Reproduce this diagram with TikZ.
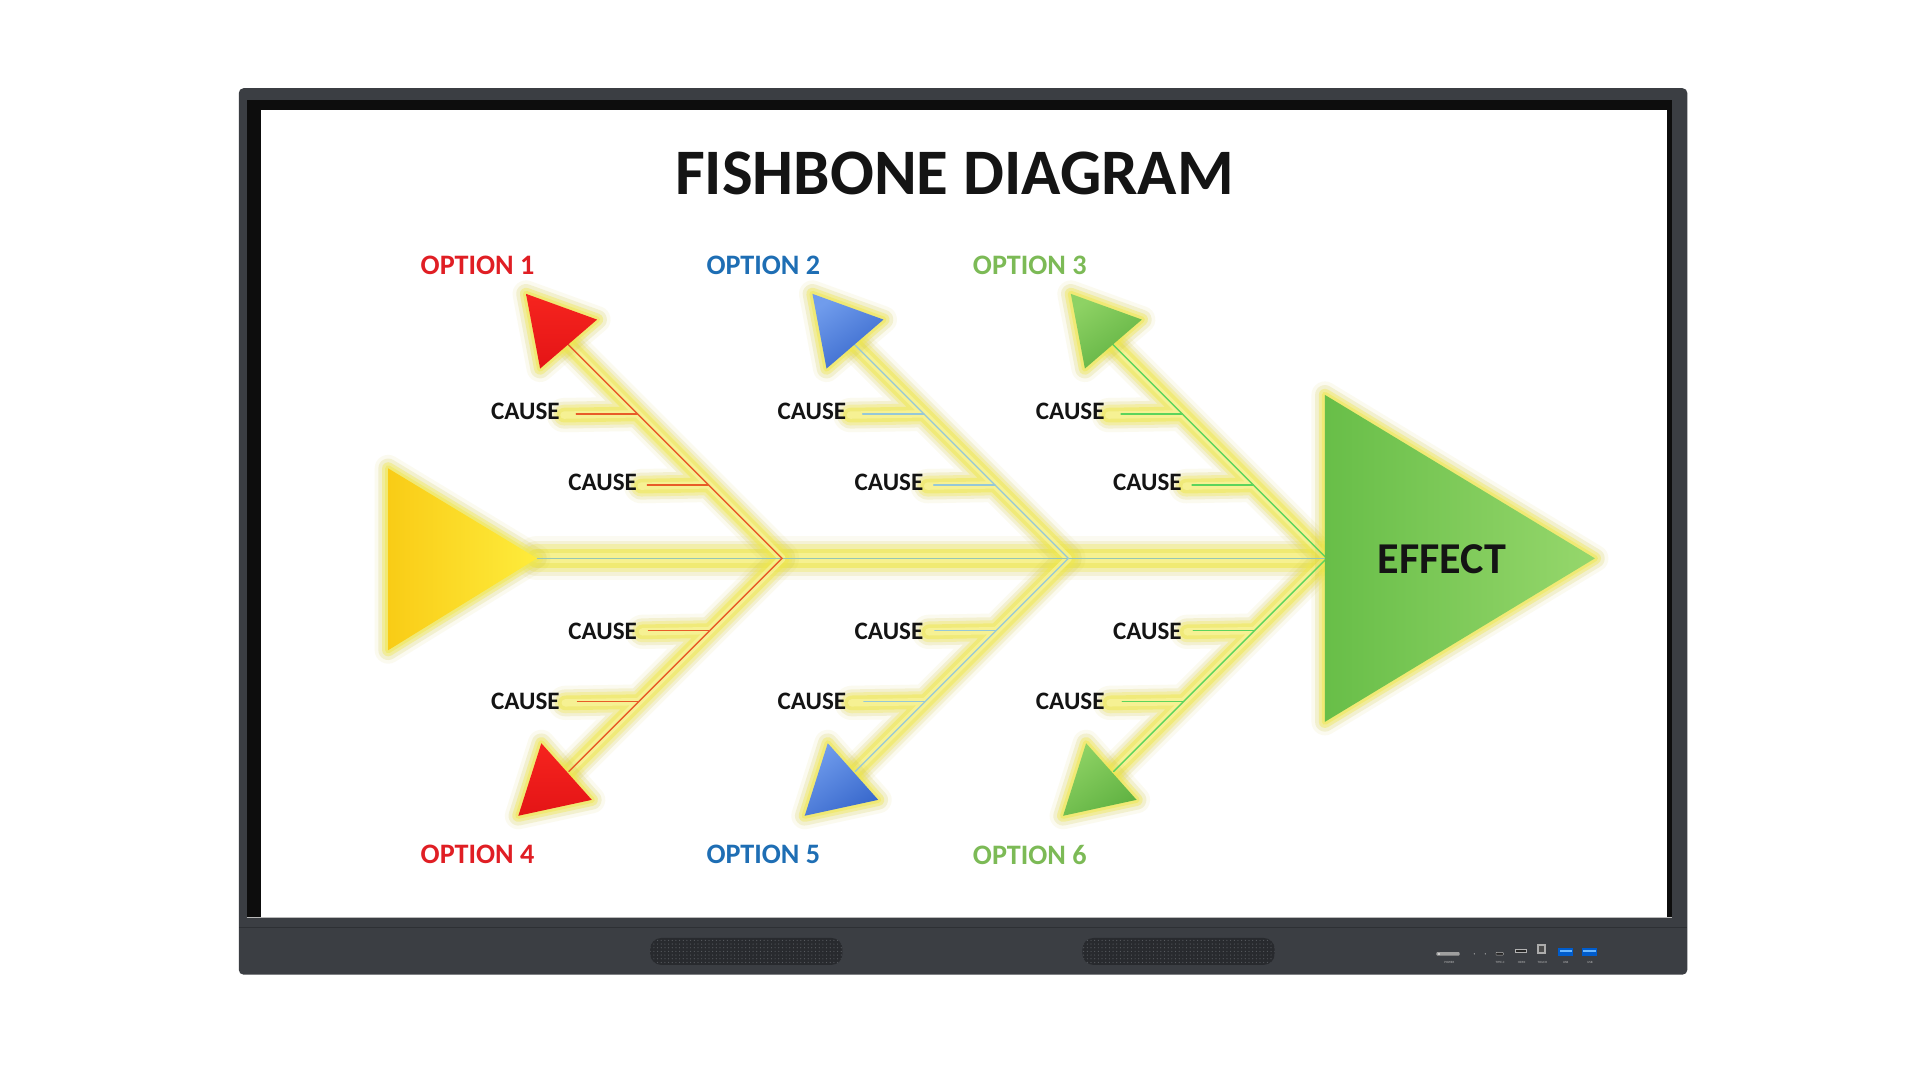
\documentclass[tikz,border=0pt]{standalone}
\usepackage{fontspec}
\setmainfont{Carlito}
\usetikzlibrary{calc,patterns}
\definecolor{bezel}{RGB}{59,62,67}
\definecolor{bezeldark}{RGB}{45,48,52}
\definecolor{grillc}{RGB}{40,42,46}
\definecolor{grilldot}{RGB}{88,91,96}
\definecolor{glowY}{RGB}{240,232,78}
\definecolor{glowO}{RGB}{206,196,62}
\definecolor{glowL}{RGB}{250,246,165}
\definecolor{optred}{RGB}{224,30,36}
\definecolor{optblue}{RGB}{30,110,180}
\definecolor{optgreen}{RGB}{124,186,86}
\definecolor{redA}{RGB}{246,36,30}
\definecolor{redB}{RGB}{228,20,22}
\definecolor{blueA}{RGB}{112,156,236}
\definecolor{blueB}{RGB}{56,104,204}
\definecolor{greenA}{RGB}{142,210,100}
\definecolor{greenB}{RGB}{96,178,66}
\definecolor{effA}{RGB}{104,190,72}
\definecolor{effB}{RGB}{150,215,108}
\definecolor{yelA}{RGB}{249,204,22}
\definecolor{yelB}{RGB}{254,236,60}
\definecolor{bonered}{RGB}{232,92,40}
\definecolor{boneblue}{RGB}{150,200,215}
\definecolor{bonegreen}{RGB}{92,212,92}
\definecolor{spinec}{RGB}{150,198,178}
\begin{document}
\begin{tikzpicture}[x=1pt,y=-1pt,
  causetxt/.style={font=\bfseries\fontsize{20.5}{22}\selectfont, text=black!92, inner sep=0pt},
  opttxt/.style={font=\bfseries\fontsize{23}{25}\selectfont, inner sep=0pt},
  portlbl/.style={font=\fontsize{2.6}{3}\selectfont, text=gray!55, inner sep=0pt},
  bonestyle/.style={line width=1.1pt, line cap=round},
  tri1/.style={top color=redA, bottom color=redB},
  tri2/.style={top color=blueA, bottom color=blueB, shading angle=35},
  tri3/.style={top color=greenA, bottom color=greenB, shading angle=35},
  bc1/.style={draw=bonered},
  bc2/.style={draw=boneblue},
  bc3/.style={draw=bonegreen}
]
\useasboundingbox (0,0) rectangle (1568,882);
\fill[white] (0,0) rectangle (1568,882);

% ---------- monitor ----------
\fill[bezel, rounded corners=4pt] (195,72) rectangle (1378,796);
\fill[black!95] (201.5,82) rectangle (1365.5,749);
\fill[white] (213,89.5) rectangle (1361,748.5);
\draw[gray!55, line width=0.8pt] (201.5,749.6) -- (1365.5,749.6);
\draw[bezeldark, line width=0.8pt] (195.5,757.5) -- (1377.5,757.5);
\foreach \gx in {531,884}{
  \fill[grillc, rounded corners=9pt] (\gx,766) rectangle ++(157,22);
  \fill[pattern=dots, pattern color=grilldot, rounded corners=9pt] (\gx,766) rectangle ++(157,22);
}
% ports
\fill[gray!75, rounded corners=0.8pt] (1173,777.5) rectangle (1192,780.5);
\fill[gray!40] (1174.5,778.3) rectangle (1176,779.7);
\fill[gray!45] (1204,779) circle (0.5);
\fill[gray!45] (1213,779) circle (0.5);
\filldraw[fill=black!85, draw=gray!60, line width=0.3pt, rounded corners=0.5pt] (1221.7,777.8) rectangle (1227.7,780);
\filldraw[fill=black!85, draw=gray!60, line width=0.3pt] (1237,775) rectangle (1246.7,777.6);
\fill[gray!65] (1255,771) rectangle (1262.5,779);
\fill[black!70] (1256.8,772.8) rectangle (1260.7,777.2);
\fill[blue!55!cyan!80!black] (1272.6,774.5) rectangle (1284.8,780.7);
\fill[blue!55!cyan!80!black] (1292,774.5) rectangle (1304.5,780.7);
\fill[blue!40!white!70!cyan] (1273.6,775.5) rectangle (1283.8,777.2);
\fill[blue!40!white!70!cyan] (1293,775.5) rectangle (1303.5,777.2);
\node[portlbl] (p1) at (1183.6,786) {POWER};
\node[portlbl] (p2) at (1225,786) {TYPE-C};
\node[portlbl] (p3) at (1242.7,786) {HDMI};
\node[portlbl] (p4) at (1259.6,786) {TOUCH};
\node[portlbl] (p5) at (1278.6,786) {USB};
\node[portlbl] (p6) at (1298.5,786) {USB};

% ---------- coordinates ----------
\coordinate (Yt) at (317,382.5);
\coordinate (Yb) at (317,531);
\coordinate (Ya) at (438.5,456);
\coordinate (Et) at (1082,322.5);
\coordinate (Eb) at (1082,589.5);
\coordinate (Ea) at (1302.5,456);
\foreach \i/\jx in {1/638.6,2/872.5,3/1083.5}{
  \coordinate (J\i) at (\jx,456);
  \coordinate (U\i) at ($(J\i)+(-176,-176)$);
  \coordinate (L\i) at ($(J\i)+(-174,174)$);
  \coordinate (da\i) at ($(J\i)+(-118,-118)$);
  \coordinate (db\i) at ($(J\i)+(-60,-60)$);
  \coordinate (dc\i) at ($(J\i)+(-59,59)$);
  \coordinate (dd\i) at ($(J\i)+(-117,117)$);
  \coordinate (sa\i) at ($(J\i)+(-168,-118)$);
  \coordinate (sb\i) at ($(J\i)+(-110,-60)$);
  \coordinate (sc\i) at ($(J\i)+(-109,59)$);
  \coordinate (sd\i) at ($(J\i)+(-167,117)$);
  \coordinate (ga\i) at ($(J\i)+(-178,-117)$);
  \coordinate (gb\i) at ($(J\i)+(-115,-59)$);
  \coordinate (gc\i) at ($(J\i)+(-114,60)$);
  \coordinate (gd\i) at ($(J\i)+(-177,118)$);
  \coordinate (Ta\i) at ($(J\i)+(-209,-216)$);
  \coordinate (Tb\i) at ($(J\i)+(-151,-195)$);
  \coordinate (Tc\i) at ($(J\i)+(-197.5,-155)$);
  \coordinate (Ba\i) at ($(J\i)+(-196.5,151)$);
  \coordinate (Bb\i) at ($(J\i)+(-155.3,197.2)$);
  \coordinate (Bc\i) at ($(J\i)+(-215.3,210.2)$);
}

% ---------- glows ----------
\foreach \w/\o/\c in {36/0.07/glowO, 29/0.15/glowO, 23/0.32/glowY, 16/0.6/glowY, 8/0.6/glowL}{
  \draw[line width=\w pt, draw=\c, draw opacity=\o, line cap=round] (Ya) -- (J3);
}
\foreach \w/\o/\c in {28/0.08/glowO, 22/0.17/glowO, 17/0.32/glowY, 12/0.5/glowY, 6/0.6/glowL}{
  \draw[line width=\w pt, draw=\c, draw opacity=\o, line cap=round, line join=round]
    \foreach \i in {1,2,3}{ (U\i) -- (J\i) -- (L\i) (ga\i) -- (da\i) (gb\i) -- (db\i) (gc\i) -- (dc\i) (gd\i) -- (dd\i) };
}
\foreach \w/\o/\c in {22/0.08/glowO, 16/0.18/glowO, 10/0.4/glowY, 5/0.5/glowY}{
  \draw[line width=\w pt, draw=\c, draw opacity=\o, line join=round]
    (Yt) -- (Ya) -- (Yb) -- cycle (Et) -- (Ea) -- (Eb) -- cycle
    \foreach \i in {1,2,3}{ (Ta\i) -- (Tb\i) -- (Tc\i) -- cycle (Ba\i) -- (Bb\i) -- (Bc\i) -- cycle };
}

% ---------- spine and bones ----------
\draw[line width=1.1pt, draw=spinec] (Ya) -- (J3);
\foreach \i in {1,2,3}{
  \draw[bonestyle, bc\i] (U\i) -- (J\i) -- (L\i);
  \draw[bonestyle, bc\i] (sa\i) -- (da\i);
  \draw[bonestyle, bc\i] (sb\i) -- (db\i);
  \draw[bonestyle, bc\i] (sc\i) -- (dc\i);
  \draw[bonestyle, bc\i] (sd\i) -- (dd\i);
  \shade[tri\i] (Ta\i) -- (Tb\i) -- (Tc\i) -- cycle;
  \shade[tri\i] (Ba\i) -- (Bb\i) -- (Bc\i) -- cycle;
  \node[causetxt] (ca\i) at ($(J\i)+(-209.5,-120)$) {CAUSE};
  \node[causetxt] (cb\i) at ($(J\i)+(-146.5,-62)$) {CAUSE};
  \node[causetxt] (cc\i) at ($(J\i)+(-146.5,59.5)$) {CAUSE};
  \node[causetxt] (cd\i) at ($(J\i)+(-209.5,117)$) {CAUSE};
}

% ---------- head and tail ----------
\shade[left color=yelA, right color=yelB] (Yt) -- (Ya) -- (Yb) -- cycle;
\shade[left color=effA, right color=effB] (Et) -- (Ea) -- (Eb) -- cycle;
\node[font=\bfseries\fontsize{36}{40}\selectfont, text=black!92, inner sep=0pt] (effect) at (1177.4,456.5) {EFFECT};

% ---------- labels ----------
\node[font=\bfseries\fontsize{53}{60}\selectfont, text=black!92, inner sep=0pt] (title) at (779.5,142) {FISHBONE DIAGRAM};
\node[opttxt, text=optred] (o1) at (390,217) {OPTION 1};
\node[opttxt, text=optblue] (o2) at (623.4,217) {OPTION 2};
\node[opttxt, text=optgreen] (o3) at (841,217) {OPTION 3};
\node[opttxt, text=optred] (o4) at (390,698) {OPTION 4};
\node[opttxt, text=optblue] (o5) at (623.4,698) {OPTION 5};
\node[opttxt, text=optgreen] (o6) at (841,698) {OPTION 6};
\end{tikzpicture}
\end{document}
